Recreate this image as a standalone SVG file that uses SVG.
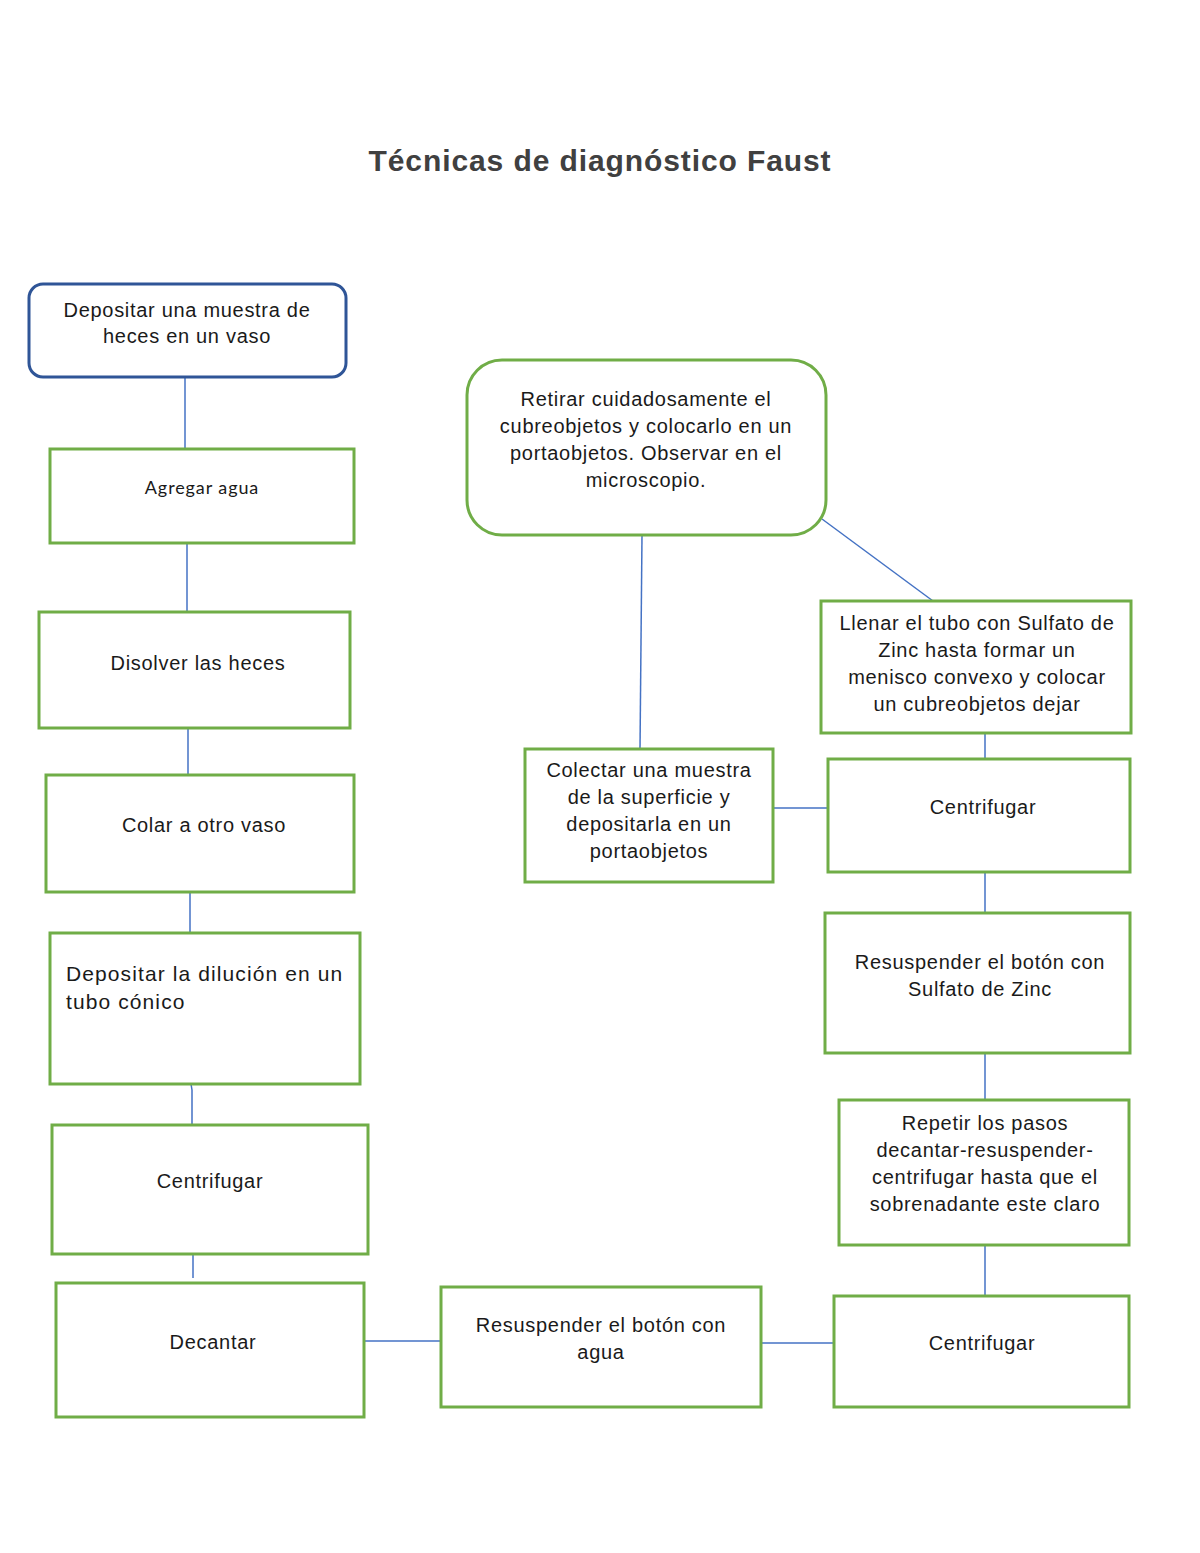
<svg xmlns="http://www.w3.org/2000/svg" width="1200" height="1553" viewBox="0 0 1200 1553">
<style>
.bg{fill:#ffffff}
.g{fill:#ffffff;stroke:#70AD47;stroke-width:3}
.b{fill:#ffffff;stroke:#2F5597;stroke-width:3}
.c{stroke:#4472C4;stroke-width:1.5;fill:none}
.t{font-family:"Liberation Sans",Arial,sans-serif;font-size:20px;letter-spacing:0.7px;fill:#1a1a1a;text-anchor:middle}
.l{text-anchor:start}
.k{font-family:Lato,"Open Sans",sans-serif;font-size:18px;letter-spacing:0.9px;fill:#1a1a1a;text-anchor:middle}
.title{font-family:"Liberation Sans",Arial,sans-serif;font-size:30px;letter-spacing:0.9px;font-weight:bold;fill:#404040;text-anchor:middle}
</style>
<rect class="bg" x="0" y="0" width="1200" height="1553"/>
<text class="title" x="600" y="171">Técnicas de diagnóstico Faust</text>
<g id="connectors">
<line class="c" x1="185" y1="377" x2="185" y2="449"/>
<line class="c" x1="187" y1="543" x2="187" y2="612"/>
<line class="c" x1="188" y1="728" x2="188" y2="775"/>
<line class="c" x1="190" y1="892" x2="190" y2="933"/>
<polyline class="c" points="191,1084 192,1090 192,1125"/>
<line class="c" x1="193" y1="1254" x2="193" y2="1278"/>
<line class="c" x1="364" y1="1341" x2="441" y2="1341"/>
<line class="c" x1="761" y1="1343" x2="834" y2="1343"/>
<line class="c" x1="985" y1="1245" x2="985" y2="1296"/>
<line class="c" x1="985" y1="1053" x2="985" y2="1100"/>
<line class="c" x1="985" y1="872" x2="985" y2="913"/>
<line class="c" x1="773" y1="808" x2="828" y2="808"/>
<line class="c" x1="642" y1="535" x2="640" y2="749"/>
<line class="c" x1="822" y1="519" x2="933" y2="601"/>
<line class="c" x1="985" y1="733" x2="985" y2="759"/>
</g>
<g id="n1"><rect class="b" x="29" y="284" width="317" height="93" rx="14"/>
<text class="t" x="187" y="317">Depositar una muestra de</text><text class="t" x="187" y="343">heces en un vaso</text></g>
<g id="n2"><rect class="g" x="50" y="449" width="304" height="94"/>
<text class="k" x="202" y="494">Agregar agua</text></g>
<g id="n3"><rect class="g" x="39" y="612" width="311" height="116"/>
<text class="t" x="198" y="670">Disolver las heces</text></g>
<g id="n4"><rect class="g" x="46" y="775" width="308" height="117"/>
<text class="t" x="204" y="832">Colar a otro vaso</text></g>
<g id="n5"><rect class="g" x="50" y="933" width="310" height="151"/>
<text class="t l" x="66" y="981" style="font-size:21px;letter-spacing:1.1px">Depositar la dilución en un</text><text class="t l" x="66" y="1009" style="font-size:21px;letter-spacing:1.1px">tubo cónico</text></g>
<g id="n6"><rect class="g" x="52" y="1125" width="316" height="129"/>
<text class="t" x="210" y="1188">Centrifugar</text></g>
<g id="n7"><rect class="g" x="56" y="1283" width="308" height="134"/>
<text class="t" x="213" y="1349">Decantar</text></g>
<g id="n8"><rect class="g" x="441" y="1287" width="320" height="120"/>
<text class="t" x="601" y="1332">Resuspender el botón con</text><text class="t" x="601" y="1359">agua</text></g>
<g id="n9"><rect class="g" x="834" y="1296" width="295" height="111"/>
<text class="t" x="982" y="1350">Centrifugar</text></g>
<g id="n10"><rect class="g" x="839" y="1100" width="290" height="145"/>
<text class="t" x="985" y="1130">Repetir los pasos</text><text class="t" x="985" y="1157">decantar-resuspender-</text><text class="t" x="985" y="1184">centrifugar hasta que el</text><text class="t" x="985" y="1211">sobrenadante este claro</text></g>
<g id="n11"><rect class="g" x="825" y="913" width="305" height="140"/>
<text class="t" x="980" y="969">Resuspender el botón con</text><text class="t" x="980" y="996">Sulfato de Zinc</text></g>
<g id="n12"><rect class="g" x="828" y="759" width="302" height="113"/>
<text class="t" x="983" y="814">Centrifugar</text></g>
<g id="n13"><rect class="g" x="525" y="749" width="248" height="133"/>
<text class="t" x="649" y="777">Colectar una muestra</text><text class="t" x="649" y="804">de la superficie y</text><text class="t" x="649" y="831">depositarla en un</text><text class="t" x="649" y="858">portaobjetos</text></g>
<g id="n14"><rect class="g" x="467" y="360" width="359" height="175" rx="35"/>
<text class="t" x="646" y="406">Retirar cuidadosamente el</text><text class="t" x="646" y="433">cubreobjetos y colocarlo en un</text><text class="t" x="646" y="460">portaobjetos. Observar en el</text><text class="t" x="646" y="487">microscopio.</text></g>
<g id="n15"><rect class="g" x="821" y="601" width="310" height="132"/>
<text class="t" x="977" y="630">Llenar el tubo con Sulfato de</text><text class="t" x="977" y="657">Zinc hasta formar un</text><text class="t" x="977" y="684">menisco convexo y colocar</text><text class="t" x="977" y="711">un cubreobjetos dejar</text></g>
</svg>
